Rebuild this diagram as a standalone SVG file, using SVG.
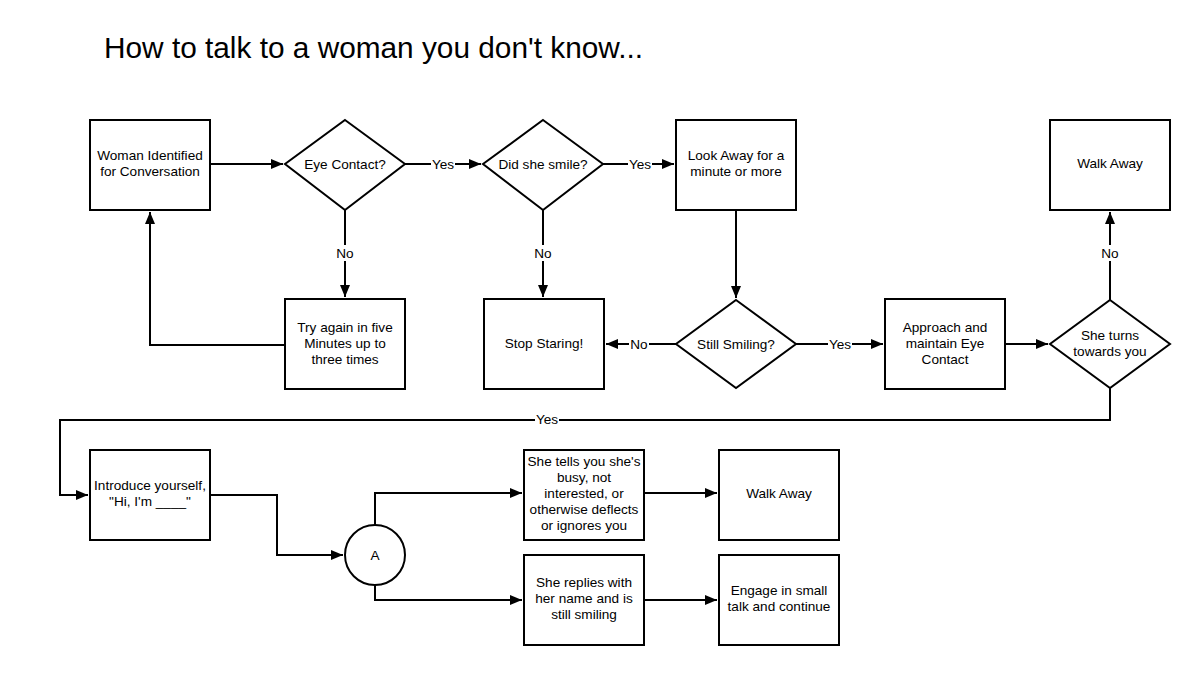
<svg xmlns="http://www.w3.org/2000/svg" width="1200" height="675" viewBox="0 0 1200 675">
<style>
.n{fill:#fff;stroke:#000;stroke-width:2}
.t{font-family:"Liberation Sans",Arial,sans-serif;font-size:13.6px;fill:#000;text-anchor:middle}
.c{fill:none;stroke:#000;stroke-width:2}
.lb{fill:#fff}
</style>
<defs>
<marker id="a" viewBox="0 0 12 10" refX="12" refY="5" markerWidth="12" markerHeight="10" markerUnits="userSpaceOnUse" orient="auto">
<path d="M0,0 L12,5 L0,10 z" fill="#000"/>
</marker>
</defs>
<rect width="1200" height="675" fill="#fff"/>
<text x="104" y="58" font-family="Liberation Sans,Arial,sans-serif" font-size="29.8" fill="#000">How to talk to a woman you don't know...</text>

<g id="connectors">
<path class="c" d="M210,164 H283" marker-end="url(#a)"/>
<path class="c" d="M405,164 H481" marker-end="url(#a)"/>
<path class="c" d="M603,164 H674" marker-end="url(#a)"/>
<path class="c" d="M345,210 V297" marker-end="url(#a)"/>
<path class="c" d="M543,210 V297" marker-end="url(#a)"/>
<path class="c" d="M736,210 V298" marker-end="url(#a)"/>
<path class="c" d="M285,345 H150 V212" marker-end="url(#a)"/>
<path class="c" d="M676,344 H606" marker-end="url(#a)"/>
<path class="c" d="M796,344 H883" marker-end="url(#a)"/>
<path class="c" d="M1005,344 H1048" marker-end="url(#a)"/>
<path class="c" d="M1110,300 V212" marker-end="url(#a)"/>
<path class="c" d="M1110,388 V420 H60 V495 H88" marker-end="url(#a)"/>
<path class="c" d="M210,495 H277 V555 H343" marker-end="url(#a)"/>
<path class="c" d="M375,525 V493 H522" marker-end="url(#a)"/>
<path class="c" d="M375,585 V600 H522" marker-end="url(#a)"/>
<path class="c" d="M644,493 H717" marker-end="url(#a)"/>
<path class="c" d="M644,600 H717" marker-end="url(#a)"/>
<rect class="lb" x="431" y="156" width="24" height="16"/><text class="t" x="443" y="168.5">Yes</text>
<rect class="lb" x="628" y="156" width="24" height="16"/><text class="t" x="640" y="168.5">Yes</text>
<rect class="lb" x="335" y="245" width="20" height="16"/><text class="t" x="345" y="257.5">No</text>
<rect class="lb" x="533" y="245" width="20" height="16"/><text class="t" x="543" y="257.5">No</text>
<rect class="lb" x="629" y="336" width="20" height="16"/><text class="t" x="639" y="348.5">No</text>
<rect class="lb" x="828" y="336" width="24" height="16"/><text class="t" x="840" y="348.5">Yes</text>
<rect class="lb" x="1100" y="245" width="20" height="16"/><text class="t" x="1110" y="257.5">No</text>
<rect class="lb" x="535" y="412" width="24" height="16"/><text class="t" x="547" y="423.5">Yes</text>
</g>

<g id="woman-identified"><rect class="n" x="90" y="120" width="120" height="90"/><text class="t" x="150" y="160">Woman Identified</text><text class="t" x="150" y="176">for Conversation</text></g>
<g id="eye-contact"><path class="n" d="M345,120 L405,164 L345,210 L285,164 Z"/><text class="t" x="345" y="168.5">Eye Contact?</text></g>
<g id="did-she-smile"><path class="n" d="M543,120 L603,164 L543,210 L483,164 Z"/><text class="t" x="543" y="168.5">Did she smile?</text></g>
<g id="look-away"><rect class="n" x="676" y="120" width="120" height="90"/><text class="t" x="736" y="160">Look Away for a</text><text class="t" x="736" y="176">minute or more</text></g>
<g id="walk-away-1"><rect class="n" x="1050" y="120" width="120" height="90"/><text class="t" x="1110" y="168">Walk Away</text></g>
<g id="try-again"><rect class="n" x="285" y="299" width="120" height="90"/><text class="t" x="345" y="332">Try again in five</text><text class="t" x="345" y="348">Minutes up to</text><text class="t" x="345" y="364">three times</text></g>
<g id="stop-staring"><rect class="n" x="484" y="299" width="120" height="90"/><text class="t" x="544" y="348">Stop Staring!</text></g>
<g id="still-smiling"><path class="n" d="M736,300 L796,344 L736,388 L676,344 Z"/><text class="t" x="736" y="348.5">Still Smiling?</text></g>
<g id="approach"><rect class="n" x="885" y="299" width="120" height="90"/><text class="t" x="945" y="332">Approach and</text><text class="t" x="945" y="348">maintain Eye</text><text class="t" x="945" y="364">Contact</text></g>
<g id="she-turns"><path class="n" d="M1110,300 L1170,344 L1110,388 L1050,344 Z"/><text class="t" x="1110" y="340">She turns</text><text class="t" x="1110" y="356">towards you</text></g>
<g id="introduce"><rect class="n" x="90" y="450" width="120" height="90"/><text class="t" x="150" y="490">Introduce yourself,</text><text class="t" x="150" y="506">"Hi, I'm ____"</text></g>
<g id="connector-a"><circle class="n" cx="375" cy="555" r="30"/><text class="t" x="375" y="559.5">A</text></g>
<g id="she-tells"><rect class="n" x="524" y="450" width="120" height="90"/><text class="t" x="584" y="466">She tells you she's</text><text class="t" x="584" y="482">busy, not</text><text class="t" x="584" y="498">interested, or</text><text class="t" x="584" y="514">otherwise deflects</text><text class="t" x="584" y="530">or ignores you</text></g>
<g id="walk-away-2"><rect class="n" x="719" y="450" width="120" height="90"/><text class="t" x="779" y="498">Walk Away</text></g>
<g id="she-replies"><rect class="n" x="524" y="555" width="120" height="90"/><text class="t" x="584" y="587">She replies with</text><text class="t" x="584" y="603">her name and is</text><text class="t" x="584" y="619">still smiling</text></g>
<g id="engage"><rect class="n" x="719" y="555" width="120" height="90"/><text class="t" x="779" y="595">Engage in small</text><text class="t" x="779" y="611">talk and continue</text></g>
</svg>
